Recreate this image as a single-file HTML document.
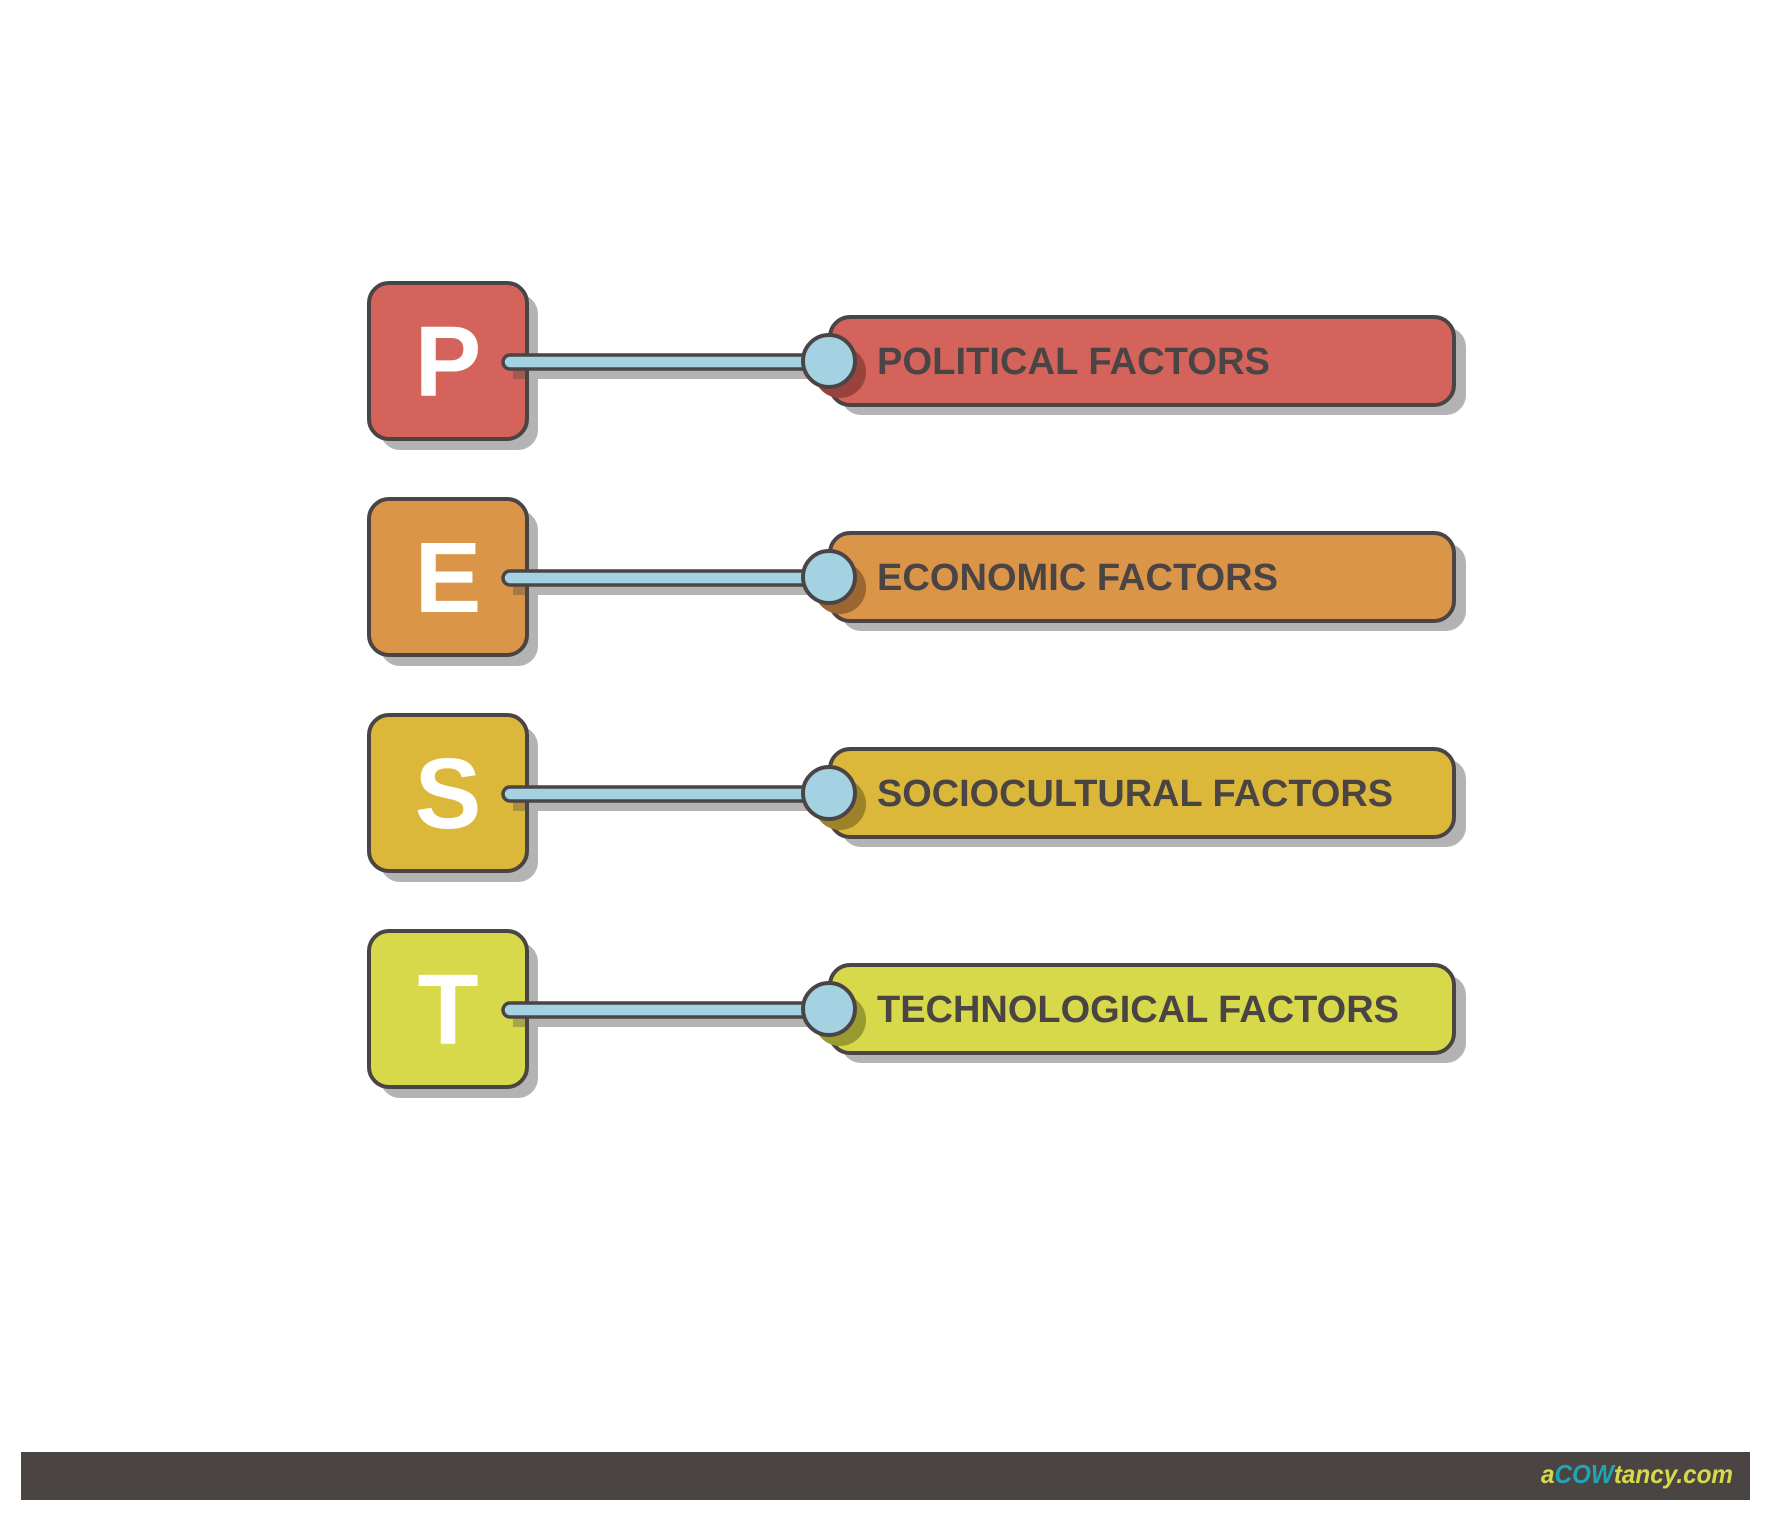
<!DOCTYPE html>
<html><head><meta charset="utf-8"><style>
html,body{margin:0;padding:0;background:#fff;}
svg{display:block;}
</style></head><body>
<svg width="1771" height="1521" viewBox="0 0 1771 1521" xmlns="http://www.w3.org/2000/svg">
<rect width="1771" height="1521" fill="#fff"/>

<g>
  <rect x="380" y="294" width="158" height="156" rx="20" fill="#b3b3b3"/>
  <rect x="841" y="327" width="625" height="88" rx="20" fill="#b3b3b3"/>
  <rect x="513" y="364" width="326" height="15" rx="7" fill="#b3b3b3"/>
  <circle cx="840" cy="372" r="26" fill="#b3b3b3"/>
  <rect x="369" y="283" width="158" height="156" rx="20" fill="#d4635c" stroke="#4a4544" stroke-width="4"/>
  <rect x="830" y="317" width="624" height="88" rx="20" fill="#d4635c" stroke="#4a4544" stroke-width="4"/>
  <rect x="513" y="364" width="14" height="15" fill="#4a4544" opacity="0.35"/>
  <circle cx="840" cy="372" r="26" fill="#9a433e"/>
  <rect x="503" y="355" width="330" height="14" rx="7" fill="#a4d2e3" stroke="#4a4544" stroke-width="3.5"/>
  <circle cx="829" cy="361" r="26" fill="#a4d2e3" stroke="#4a4544" stroke-width="4"/>
  <text x="448" y="396" text-anchor="middle" font-family="Liberation Sans, sans-serif" font-weight="bold" font-size="100" fill="#fff">P</text>
  <text x="877" y="374" font-family="Liberation Sans, sans-serif" font-weight="bold" font-size="38" fill="#4a4544" textLength="393" lengthAdjust="spacingAndGlyphs">POLITICAL FACTORS</text>
</g>
<g transform="translate(0,216)">
  <rect x="380" y="294" width="158" height="156" rx="20" fill="#b3b3b3"/>
  <rect x="841" y="327" width="625" height="88" rx="20" fill="#b3b3b3"/>
  <rect x="513" y="364" width="326" height="15" rx="7" fill="#b3b3b3"/>
  <rect x="369" y="283" width="158" height="156" rx="20" fill="#db9548" stroke="#4a4544" stroke-width="4"/>
  <rect x="830" y="317" width="624" height="88" rx="20" fill="#db9548" stroke="#4a4544" stroke-width="4"/>
  <rect x="513" y="364" width="14" height="15" fill="#4a4544" opacity="0.35"/>
  <circle cx="840" cy="372" r="26" fill="#9c6630"/>
  <rect x="503" y="355" width="330" height="14" rx="7" fill="#a4d2e3" stroke="#4a4544" stroke-width="3.5"/>
  <circle cx="829" cy="361" r="26" fill="#a4d2e3" stroke="#4a4544" stroke-width="4"/>
  <text x="448" y="396" text-anchor="middle" font-family="Liberation Sans, sans-serif" font-weight="bold" font-size="100" fill="#fff">E</text>
  <text x="877" y="374" font-family="Liberation Sans, sans-serif" font-weight="bold" font-size="38" fill="#4a4544" textLength="401" lengthAdjust="spacingAndGlyphs">ECONOMIC FACTORS</text>
</g>
<g transform="translate(0,432)">
  <rect x="380" y="294" width="158" height="156" rx="20" fill="#b3b3b3"/>
  <rect x="841" y="327" width="625" height="88" rx="20" fill="#b3b3b3"/>
  <rect x="513" y="364" width="326" height="15" rx="7" fill="#b3b3b3"/>
  <rect x="369" y="283" width="158" height="156" rx="20" fill="#dcb83a" stroke="#4a4544" stroke-width="4"/>
  <rect x="830" y="317" width="624" height="88" rx="20" fill="#dcb83a" stroke="#4a4544" stroke-width="4"/>
  <rect x="513" y="364" width="14" height="15" fill="#4a4544" opacity="0.35"/>
  <circle cx="840" cy="372" r="26" fill="#9c8228"/>
  <rect x="503" y="355" width="330" height="14" rx="7" fill="#a4d2e3" stroke="#4a4544" stroke-width="3.5"/>
  <circle cx="829" cy="361" r="26" fill="#a4d2e3" stroke="#4a4544" stroke-width="4"/>
  <text x="448" y="396" text-anchor="middle" font-family="Liberation Sans, sans-serif" font-weight="bold" font-size="100" fill="#fff">S</text>
  <text x="877" y="374" font-family="Liberation Sans, sans-serif" font-weight="bold" font-size="38" fill="#4a4544" textLength="516" lengthAdjust="spacingAndGlyphs">SOCIOCULTURAL FACTORS</text>
</g>
<g transform="translate(0,648)">
  <rect x="380" y="294" width="158" height="156" rx="20" fill="#b3b3b3"/>
  <rect x="841" y="327" width="625" height="88" rx="20" fill="#b3b3b3"/>
  <rect x="513" y="364" width="326" height="15" rx="7" fill="#b3b3b3"/>
  <rect x="369" y="283" width="158" height="156" rx="20" fill="#d8d94a" stroke="#4a4544" stroke-width="4"/>
  <rect x="830" y="317" width="624" height="88" rx="20" fill="#d8d94a" stroke="#4a4544" stroke-width="4"/>
  <rect x="513" y="364" width="14" height="15" fill="#4a4544" opacity="0.35"/>
  <circle cx="840" cy="372" r="26" fill="#999a30"/>
  <rect x="503" y="355" width="330" height="14" rx="7" fill="#a4d2e3" stroke="#4a4544" stroke-width="3.5"/>
  <circle cx="829" cy="361" r="26" fill="#a4d2e3" stroke="#4a4544" stroke-width="4"/>
  <text x="448" y="396" text-anchor="middle" font-family="Liberation Sans, sans-serif" font-weight="bold" font-size="100" fill="#fff">T</text>
  <text x="877" y="374" font-family="Liberation Sans, sans-serif" font-weight="bold" font-size="38" fill="#4a4544" textLength="522" lengthAdjust="spacingAndGlyphs">TECHNOLOGICAL FACTORS</text>
</g>

<rect x="21" y="1452" width="1729" height="48" fill="#4a4542"/>
<text x="1541" y="1483" font-family="Liberation Sans, sans-serif" font-weight="bold" font-style="italic" font-size="26" textLength="192" lengthAdjust="spacingAndGlyphs"><tspan fill="#d8d94a">a</tspan><tspan fill="#1fa5b5">COW</tspan><tspan fill="#d8d94a">tancy.com</tspan></text>
</svg>
</body></html>
